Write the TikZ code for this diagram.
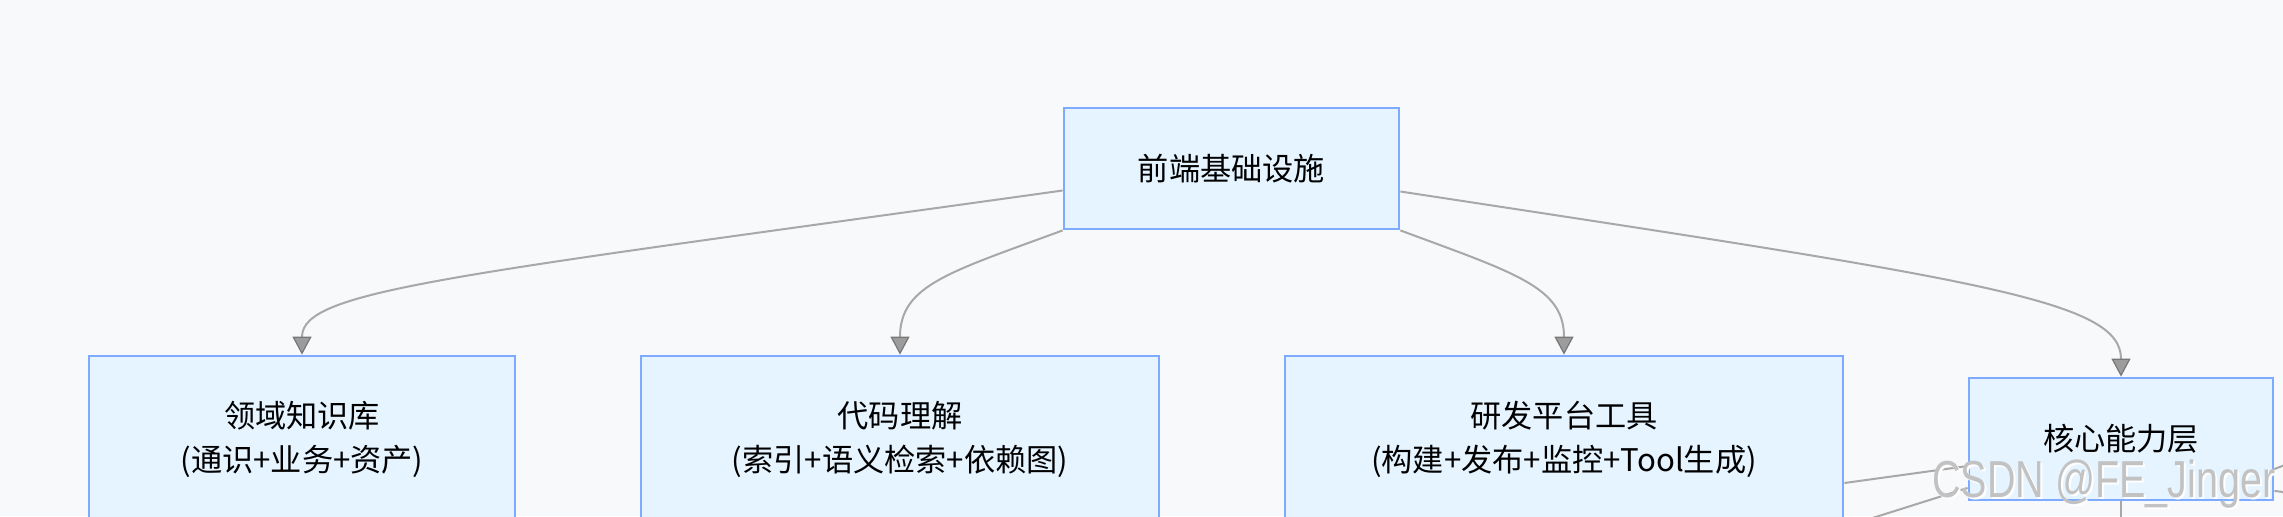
\documentclass[tikz,border=0pt]{standalone}
\usepackage{fontspec}
\usepackage{graphicx}
\setmainfont{Noto Sans CJK SC}
\newfontfamily\wmfont{Liberation Sans}
\usetikzlibrary{arrows.meta}
\definecolor{bgcol}{HTML}{F8F9FB}
\definecolor{boxfill}{HTML}{E5F4FF}
\definecolor{boxline}{HTML}{7EABFF}
\definecolor{edgecol}{HTML}{A8A8A8}
\definecolor{tipfill}{HTML}{9C9C9C}
\definecolor{tipline}{HTML}{777777}

\begin{document}
\begin{tikzpicture}[x=0.5pt,y=-0.5pt,
  box/.style={draw=boxline,fill=boxfill,line width=1.4pt,align=center,inner sep=0pt,
    font=\fontsize{15.6}{22}\selectfont},
  edge/.style={draw=edgecol,line width=1pt},
  arr/.style={edge,-{Triangle[length=9pt,width=9.5pt,fill=tipfill,color=tipline,line width=0.6pt]}},
  wm/.style={anchor=base west,inner sep=0pt,font=\wmfont\fontsize{26}{26}\selectfont}]
\path[use as bounding box,fill=bgcol] (0,0) rectangle (2283,516);
\clip (0,0) rectangle (2283,516);
\node[box,minimum width=167.5pt,minimum height=60.5pt] (infra) at (1231.5,168.5) {前端基础设施};
\node[box,minimum width=213pt,minimum height=83pt] (kb) at (302,439) {领域知识库\\(通识+业务+资产)};
\node[box,minimum width=259pt,minimum height=83pt] (code) at (900,439) {代码理解\\(索引+语义检索+依赖图)};
\node[box,minimum width=279pt,minimum height=83pt] (devtool) at (1564,439) {研发平台工具\\(构建+发布+监控+Tool生成)};
\node[box,minimum width=152pt,minimum height=61pt] (core) at (2121,439) {核心能力层};
\coordinate (offa) at (1790,544);
\coordinate (offb) at (2121,540);
\coordinate (offc) at (2300,458);
\coordinate (offd) at (2300,500);
\draw[arr] ([yshift=-11pt]infra.west) .. controls (450,276) and (302,290) .. (kb.north);
\draw[arr] (infra.south west) .. controls (950,272) and (900,285) .. (code.north);
\draw[arr] (infra.south east) .. controls (1515,273) and (1564,287) .. (devtool.north);
\draw[arr] ([yshift=-11.5pt]infra.east) .. controls (1981,280) and (2121,300) .. (core.north);
\draw[edge] ([yshift=-13.5pt]core.west) -- ([yshift=-22pt]devtool.east);
\draw[edge] ([yshift=-24.5pt]core.west) -- (offa);
\draw[edge] (core.south) -- (offb);
\draw[edge] ([yshift=-15pt]core.east) .. controls (2285,465) .. (offc);
\draw[edge] ([yshift=-26pt]core.east) .. controls (2285,492) .. (offd);
\node[wm,text=white] (wmshadow) at (1934,499) {\scalebox{0.76}[1]{CSDN @FE\_Jinger}};
\node[wm,text=black!24] (wm) at (1932,497) {\scalebox{0.76}[1]{CSDN @FE\_Jinger}};
\end{tikzpicture}
\end{document}
